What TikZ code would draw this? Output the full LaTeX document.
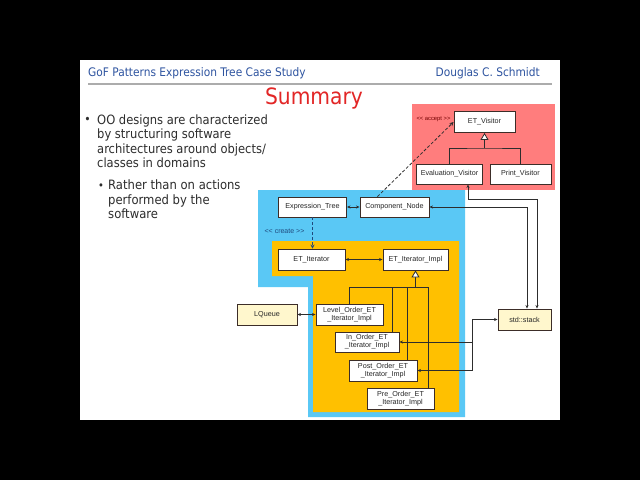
\documentclass[tikz,border=0pt]{standalone}
\usepackage{fontspec}
\setmainfont{Liberation Sans}
\newfontfamily\slidefont{DejaVu Sans Condensed}
\usetikzlibrary{arrows.meta,calc,shadows}
\definecolor{salmon}{RGB}{255,125,125}
\definecolor{skyb}{RGB}{90,200,245}
\definecolor{gold}{RGB}{255,192,0}
\definecolor{cream}{RGB}{255,247,205}
\definecolor{hdr}{RGB}{46,84,160}
\definecolor{sumred}{RGB}{226,38,38}
\definecolor{bord}{RGB}{60,45,40}
\definecolor{txt}{RGB}{45,45,45}
\definecolor{lblblue}{RGB}{31,73,125}
\definecolor{lnk}{RGB}{45,45,45}
\begin{document}
\begin{tikzpicture}[x=1pt,y=-1pt,
  box/.style={draw=bord, line width=0.9pt, fill=white, inner sep=0pt, align=center,
    font=\fontsize{7.2}{7.8}\selectfont, text=black!85,
    drop shadow={shadow xshift=0.9pt,shadow yshift=-0.9pt,opacity=0.35}},
  cbox/.style={box, fill=cream},
  bodytext/.style={anchor=base west, inner sep=0pt, text=txt, font=\slidefont\fontsize{12.8}{14}\selectfont},
  subtext/.style={anchor=base west, inner sep=0pt, text=txt, font=\slidefont\fontsize{12.9}{14}\selectfont},
  bul/.style={anchor=base, inner sep=0pt, text=txt, font=\slidefont\fontsize{12}{14}\selectfont},
  link/.style={draw=lnk, line width=0.8pt},
  both/.style={link, {Stealth[length=3.5pt,width=3pt]}-{Stealth[length=3.5pt,width=3pt]}},
  inh/.style={link, -{Triangle[length=7pt,width=8pt,fill=white]}},
  dep/.style={link, dashed, dash pattern=on 3pt off 2pt, -{Stealth[length=4pt,width=4pt]}}
]
\useasboundingbox (0,0) rectangle (640,480);
\fill[black] (0,0) rectangle (640,480);
\fill[white] (80,60) rectangle (560,420);

% header
\node[anchor=base west, inner sep=0pt, text=hdr, font=\slidefont\fontsize{11.8}{12}\selectfont] (title) at (88,76) {GoF Patterns Expression Tree Case Study};
\node[anchor=base east, inner sep=0pt, text=hdr, font=\slidefont\fontsize{11.8}{12}\selectfont] (author) at (540,76) {Douglas C. Schmidt};
\draw[gray!65, line width=2pt] (88,84) -- (552,84);
\node[anchor=base, inner sep=0pt, text=sumred, font=\slidefont\fontsize{22.5}{24}\selectfont] (summary) at (314,104) {Summary};

% bullets
\node[bul] (b1) at (87.5,123.5) {•};
\node[bodytext] (l1) at (97,124) {OO designs are characterized};
\node[bodytext] (l2) at (97,138.6) {by structuring software};
\node[bodytext] (l3) at (97,153.2) {architectures around objects/};
\node[bodytext] (l4) at (97,167.8) {classes in domains};
\node[bul, font=\slidefont\fontsize{11}{14}\selectfont] (b2) at (101,189) {•};
\node[subtext] (s1) at (108,189.5) {Rather than on actions};
\node[subtext] (s2) at (108,204.2) {performed by the};
\node[subtext] (s3) at (108,218.8) {software};

% regions
\fill[salmon] (412,104) rectangle (555,190);
\fill[skyb] (258,190) -- (465,190) -- (465,417) -- (308,417) -- (308,287) -- (258,287) -- cycle;
\fill[gold] (272,241) -- (459,241) -- (459,412) -- (313,412) -- (313,276) -- (272,276) -- cycle;

% nodes
\node[box, minimum width=61pt, minimum height=21pt] (ETV) at (484.5,122) {ET\_Visitor};
\node[box, minimum width=66pt, minimum height=20pt] (EV) at (449.5,174) {Evaluation\_Visitor};
\node[box, minimum width=61pt, minimum height=20pt] (PV) at (520.5,174) {Print\_Visitor};
\node[box, minimum width=68pt, minimum height=20pt] (ET) at (312.5,207) {Expression\_Tree};
\node[box, minimum width=69pt, minimum height=20pt] (CN) at (394.5,207) {Component\_Node};
\node[box, minimum width=67pt, minimum height=21pt] (EI) at (311.5,259.5) {ET\_Iterator};
\node[box, minimum width=65pt, minimum height=21pt] (EII) at (415.5,259.5) {ET\_Iterator\_Impl};
\node[cbox, minimum width=60pt, minimum height=21pt] (LQ) at (267,314.5) {LQueue};
\node[box, minimum width=67pt, minimum height=21pt] (LO) at (349.5,314.5) {Level\_Order\_ET\\\_Iterator\_Impl};
\node[box, minimum width=64pt, minimum height=20pt] (IO) at (367,342) {In\_Order\_ET\\\_Iterator\_Impl};
\node[box, minimum width=68pt, minimum height=21pt] (PO) at (383,370.5) {Post\_Order\_ET\\\_Iterator\_Impl};
\node[box, minimum width=67pt, minimum height=21pt] (PRO) at (400.5,398.5) {Pre\_Order\_ET\\\_Iterator\_Impl};
\node[cbox, minimum width=53pt, minimum height=21pt] (ST) at (524.5,319.5) {std::stack};

% labels
\node[inner sep=0pt, text=red!45!black, font=\fontsize{5.8}{6}\selectfont] (acc) at (433.5,119.5) {<{}< accept >{}>};
\node[inner sep=0pt, text=lblblue, font=\fontsize{7}{7}\selectfont] (cre) at (284.5,231) {<{}< create >{}>};

% visitor hierarchy
\coordinate (vbus) at (484.5,148);
\draw[link] (EV.north) |- (vbus) -| (PV.north);
\draw[inh] (vbus) -- (ETV.south);

% iterator hierarchy
\coordinate (ibus) at (415.5,287);
\coordinate (q1) at (349.5,287);
\coordinate (q2) at (392,287);
\coordinate (q3) at (407,287);
\coordinate (q4) at (428,287);
\draw[link] (q1) -- (q4);
\draw[inh] (ibus) -- (EII.south);
\draw[link] (q1) -- (LO.north);
\draw[link] (q2) -- (IO.north -| q2);
\draw[link] (q3) -- (PO.north -| q3);
\draw[link] (q4) -- (PRO.north -| q4);

% associations
\draw[both] (ET.east) -- (CN.west);
\draw[both] (EI.east) -- (EII.west);
\draw[both] (LQ.east) -- (LO.west);
\coordinate (e1) at (468,199);
\coordinate (e2) at (537,199);
\draw[both] (EV.south -| e1) -- (e1) -- (e2) -- (ST.north -| e2);
\coordinate (c2) at (527,207);
\draw[both] (CN.east) -- (c2) -- (ST.north -| c2);
\coordinate (kx) at (472,342);
\draw[link, -{Stealth[length=3.5pt,width=3pt]}] (ST.west -| kx) -- (ST.west);
\draw[link] (ST.west -| kx) -- (PO.east -| kx);
\draw[link, -{Stealth[length=3.5pt,width=3pt]}] (IO.east -| kx) -- (IO.east);
\draw[link, -{Stealth[length=3.5pt,width=3pt]}] (PO.east -| kx) -- (PO.east);

% dependencies
\draw[dep, draw=lblblue] (ET.south) -- (ET.south |- EI.north);
\draw[dep] ($(CN.north)+(-17,0)$) -- (ETV.west);
\end{tikzpicture}
\end{document}
